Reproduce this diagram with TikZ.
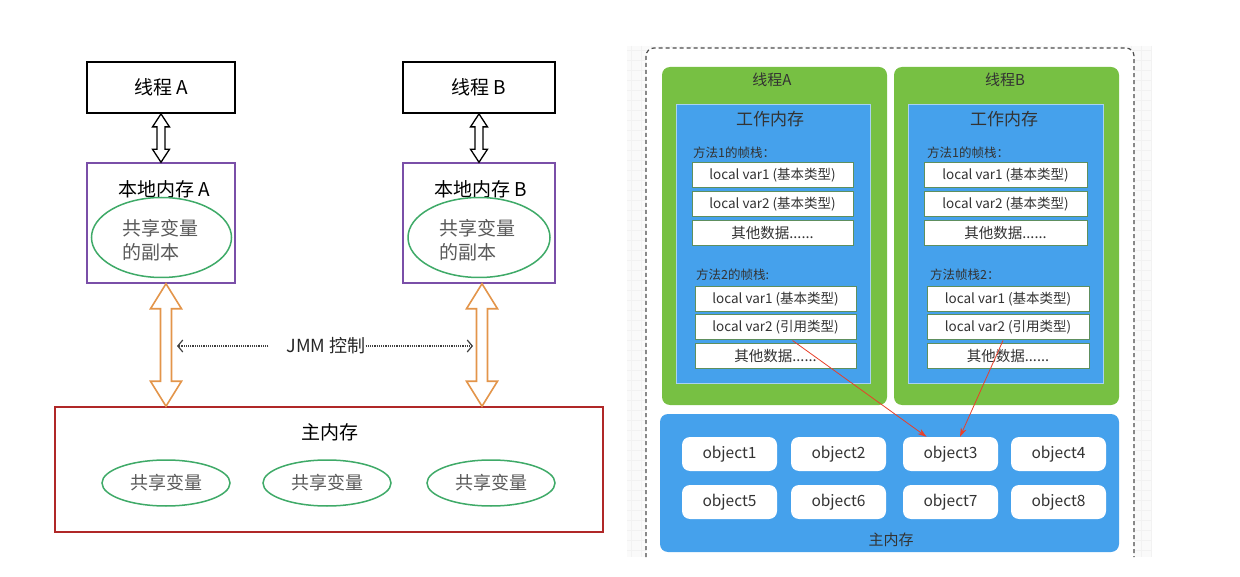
\documentclass[tikz,border=0pt]{standalone}
\usepackage{fontspec}
\setmainfont{Noto Sans CJK SC}
\usetikzlibrary{calc,arrows.meta,shapes.geometric}
\definecolor{purp}{HTML}{7A4FA8}
\definecolor{grn}{HTML}{3FAA68}
\definecolor{dred}{HTML}{B02828}
\definecolor{orng}{HTML}{E3954A}
\definecolor{tgrey}{HTML}{5A5A5A}
\definecolor{lgreen}{HTML}{77C043}
\definecolor{lblue}{HTML}{45A1EC}
\definecolor{bluebd}{HTML}{A9D2F3}
\definecolor{rowbd}{HTML}{5E8F5E}
\definecolor{dtxt}{HTML}{333333}
\definecolor{redarr}{HTML}{E8402A}
\newcommand{\fs}[1]{\fontsize{#1}{#1}\selectfont}
\newcommand{\dbarr}[6]{%
  \draw[#6] (#1) -- ($(#1)+(#3,#5)$) -- ($(#1)+(#4,#5)$) -- ($(#2)+(#4,-#5)$) -- ($(#2)+(#3,-#5)$) -- (#2) -- ($(#2)+(-#3,-#5)$) -- ($(#2)+(-#4,-#5)$) -- ($(#1)+(-#4,#5)$) -- ($(#1)+(-#3,#5)$) -- cycle;}
\tikzset{
  thread/.style={draw=black, line width=1.8pt, minimum width=148pt, minimum height=51pt, inner sep=0pt, font=\fs{19}},
  localbox/.style={draw=purp, line width=1.5pt, minimum width=148pt, minimum height=120pt, inner sep=0pt},
  copyell/.style={ellipse, draw=grn, line width=1.5pt, minimum width=140pt, minimum height=80pt, inner sep=0pt},
  shareell/.style={ellipse, draw=grn, line width=1.5pt, minimum width=128pt, minimum height=46pt, inner sep=0pt, text=tgrey, font=\fs{18}},
  greentxt/.style={text=tgrey, font=\fs{19}, align=left, inner sep=0pt},
  title/.style={inner sep=0pt, font=\fs{19}},
  blkarrow/.style={draw=black, fill=white, line width=1.3pt, line join=miter},
  orarrow/.style={draw=orng, fill=white, line width=1.6pt, line join=miter},
  jmm/.style={densely dotted, line width=1.2pt, draw=black!75, -{Straight Barb[length=5pt,width=12pt]}},
  gbox/.style={fill=lgreen, rounded corners=8pt, inner sep=0pt},
  wbox/.style={fill=lblue, draw=bluebd, line width=1pt, inner sep=0pt},
  rowbox/.style={fill=white, draw=rowbd, line width=1pt, minimum height=25pt, inner sep=0pt, text=dtxt, font=\fs{13.5}},
  rtxt/.style={text=dtxt, inner sep=0pt},
  objbox/.style={fill=white, rounded corners=8pt, minimum width=95pt, minimum height=34pt, inner sep=0pt, text=dtxt, font=\fs{15.5}},
  refarr/.style={draw=redarr, line width=0.8pt, -{Stealth[length=9pt,width=6pt]}},
  gridc/.style={draw=black!5, line width=0.4pt}
}
\begin{document}
\begin{tikzpicture}[x=1pt,y=-1pt]
\useasboundingbox (0,0) rectangle (1240,577);
\fill[white] (0,0) rectangle (1240,577);

% ---------------- left diagram ----------------
\node[thread] (ta) at (161,87.5) {线程 A};
\node[thread, minimum width=152pt] (tb) at (479,87.5) {线程 B};
\node[localbox] (la) at (161,223) {};
\node[localbox, minimum width=152pt] (lb) at (479,223) {};
\node[title] (lat) at (164,189) {本地内存 A};
\node[title] (lbt) at (481,189) {本地内存 B};
\node[copyell] (ea) at (161.5,237.5) {};
\node[copyell, minimum width=142pt] (eb) at (479,237.5) {};
\node[greentxt, anchor=west] (eat) at (122,240.5) {共享变量\\[5pt]的副本};
\node[greentxt, anchor=west] (ebt) at (439,240.5) {共享变量\\[5pt]的副本};

\node[draw=dred, line width=1.5pt, minimum width=548pt, minimum height=125pt, inner sep=0pt] (mm) at (329,469.5) {};
\node[title] (mmt) at (330,432) {主内存};
\node[shareell] (s1) at (166,483) {共享变量};
\node[shareell] (s2) at (327,483) {共享变量};
\node[shareell] (s3) at (491,483) {共享变量};

\dbarr{ta.south}{la.north}{8.5}{4}{13}{blkarrow}
\dbarr{tb.south}{lb.north}{8.5}{4}{13}{blkarrow}
\coordinate (oa1) at ($(la.south)+(5,0)$);
\coordinate (oa2) at (oa1 |- mm.north);
\coordinate (ob1) at ($(lb.south)+(3,0)$);
\coordinate (ob2) at (ob1 |- mm.north);
\dbarr{oa1}{oa2}{15.5}{5.5}{25}{orarrow}
\dbarr{ob1}{ob2}{15.5}{5.5}{25}{orarrow}

\node[inner sep=0pt, font=\fs{18}, text=black!85] (jmm) at (326,346) {JMM 控制};
\coordinate (jl) at (177,346);
\coordinate (jr) at (473,346);
\draw[jmm] ($(jmm.west)+(-18,0)$) -- (jl);
\draw[jmm] (jmm.east) -- (jr);

% ---------------- right diagram ----------------
\fill[black!2] (627,46) rectangle (1152,557);
\foreach \gx in {631,641,...,1151} \draw[gridc] (\gx,46) -- (\gx,557);
\foreach \gy in {50,60,...,550} \draw[gridc] (627,\gy) -- (1152,\gy);
\fill[white] (646,557) -- (646,56) arc[start angle=180, end angle=270, radius=8] -- (1126,48) arc[start angle=270, end angle=360, radius=8] -- (1134,557) -- cycle;
\draw[black!70, line width=1.2pt, dash pattern=on 4pt off 3pt] (646,557) -- (646,56) arc[start angle=180, end angle=270, radius=8] -- (1126,48) arc[start angle=270, end angle=360, radius=8] -- (1134,557);

% thread A
\node[gbox, minimum width=225pt, minimum height=338pt] (ga) at (774.5,236) {};
\node[rtxt, font=\fs{15}] (gat) at (772,80) {线程A};
\node[wbox, minimum width=194pt, minimum height=278pt] (wa) at (773,244) {};
\node[rtxt, font=\fs{17}] (wat) at (770,119) {工作内存};
\node[rtxt, font=\fs{12.5}, anchor=west] (fa1) at (693,153) {方法1的帧栈：};
\node[rowbox, minimum width=161pt] (a11) at (772.5,175.5) {local var1 (基本类型)};
\node[rowbox, minimum width=161pt] (a12) at (772.5,204.5) {local var2 (基本类型)};
\node[rowbox, minimum width=161pt, font=\fs{14.5}] (a13) at (772.5,233.5) {其他数据......};
\node[rtxt, font=\fs{12.5}, anchor=west] (fa2) at (696,275) {方法2的帧栈:};
\node[rowbox, minimum width=161pt] (a21) at (775.5,299.5) {local var1 (基本类型)};
\node[rowbox, minimum width=161pt] (a22) at (775.5,327.5) {local var2 (引用类型)};
\node[rowbox, minimum width=161pt, font=\fs{14.5}] (a23) at (775.5,356.5) {其他数据......};

% thread B
\node[gbox, minimum width=225pt, minimum height=338pt] (gb) at (1006.5,236) {};
\node[rtxt, font=\fs{15}] (gbt) at (1005,80) {线程B};
\node[wbox, minimum width=195pt, minimum height=278pt] (wb) at (1005.5,244) {};
\node[rtxt, font=\fs{17}] (wbt) at (1004,119) {工作内存};
\node[rtxt, font=\fs{12.5}, anchor=west] (fb1) at (927,153) {方法1的帧栈：};
\node[rowbox, minimum width=163pt] (b11) at (1005.5,175.5) {local var1 (基本类型)};
\node[rowbox, minimum width=163pt] (b12) at (1005.5,204.5) {local var2 (基本类型)};
\node[rowbox, minimum width=163pt, font=\fs{14.5}] (b13) at (1005.5,233.5) {其他数据......};
\node[rtxt, font=\fs{12.5}, anchor=west] (fb2) at (930,275) {方法帧栈2：};
\node[rowbox, minimum width=162pt] (b21) at (1008,299.5) {local var1 (基本类型)};
\node[rowbox, minimum width=162pt] (b22) at (1008,327.5) {local var2 (引用类型)};
\node[rowbox, minimum width=162pt, font=\fs{14.5}] (b23) at (1008,356.5) {其他数据......};

% main memory
\node[gbox, fill=lblue, minimum width=459pt, minimum height=138pt] (mm2) at (889.5,483) {};
\node[rtxt, font=\fs{15}] (mm2t) at (891,540) {主内存};
\node[objbox] (o1) at (729.5,454) {object1};
\node[objbox] (o2) at (838.5,454) {object2};
\node[objbox] (o3) at (950.5,454) {object3};
\node[objbox] (o4) at (1058.5,454) {object4};
\node[objbox] (o5) at (729.5,502) {object5};
\node[objbox] (o6) at (838.5,502) {object6};
\node[objbox] (o7) at (950.5,502) {object7};
\node[objbox] (o8) at (1058.5,502) {object8};

\draw[refarr] ($(a22.south)+(17,0)$) -- ($(o3.north)+(-24,0)$);
\draw[refarr] ($(b22.south)+(-5,0)$) -- ($(o3.north)+(9.5,0)$);
\end{tikzpicture}
\end{document}
